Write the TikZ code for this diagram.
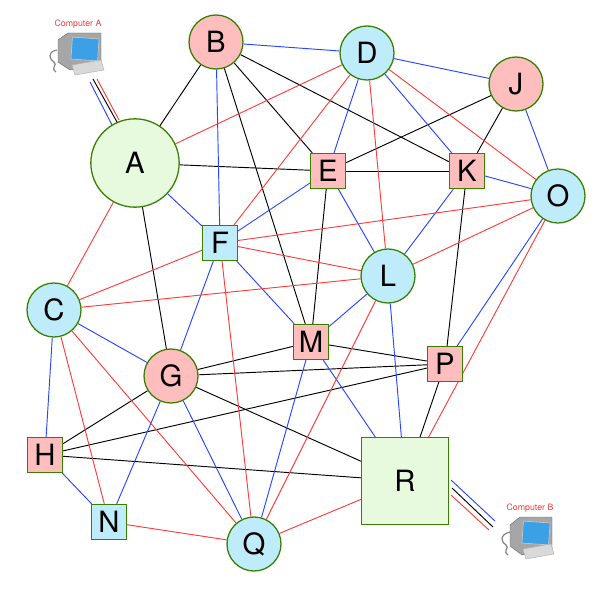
\documentclass[tikz,border=0pt]{standalone}
\usepackage{fontspec}
\setmainfont{TeX Gyre Heros}
\usetikzlibrary{backgrounds}
\definecolor{ngreen}{RGB}{56,128,0}
\definecolor{npink}{RGB}{255,190,190}
\definecolor{nblue}{RGB}{190,236,250}
\definecolor{nlight}{RGB}{232,250,222}
\definecolor{eblue}{RGB}{40,70,255}
\definecolor{ered}{RGB}{255,60,60}
\definecolor{ltext}{RGB}{240,60,60}
\definecolor{scrblue}{RGB}{60,160,230}
\begin{document}
\begin{tikzpicture}[x=0.03cm,y=-0.03cm,
 base/.style={draw=ngreen,line width=1.1pt,inner sep=0pt,font=\fontsize{25}{25}\selectfont},
 cp/.style={base,circle,minimum size=1.62cm,fill=npink},
 cb/.style={base,circle,minimum size=1.62cm,fill=nblue},
 sp/.style={base,rectangle,minimum size=1.05cm,fill=npink},
 sb/.style={base,rectangle,minimum size=1.05cm,fill=nblue},
 bk/.style={draw=black,line width=0.8pt},
 bl/.style={draw=eblue,line width=0.8pt},
 rd/.style={draw=ered,line width=0.8pt},
 clab/.style={text=ltext,font=\fontsize{7.5}{7.5}\selectfont,inner sep=0pt},
 body/.style={fill=gray!70,draw=gray!85!black,line width=0.4pt},
 scr/.style={fill=scrblue,draw=gray!40,line width=0.5pt},
 kbd/.style={fill=gray!30,draw=gray!60,line width=0.4pt}]
\useasboundingbox (0,0) rectangle (600,600);
\node[base,circle,minimum size=2.65cm,fill=nlight] (A) at (135,163) {A};
\node[cp] (B) at (216,42) {B};
\node[cb] (D) at (367,53) {D};
\node[cp] (J) at (516,84) {J};
\node[cb] (O) at (558,196) {O};
\node[sp] (E) at (328,171) {E};
\node[sp] (K) at (467,171) {K};
\node[sb] (F) at (220,243) {F};
\node[cb] (L) at (388,276) {L};
\node[cb] (C) at (54,310) {C};
\node[sp] (M) at (311,342) {M};
\node[cp] (G) at (171,376) {G};
\node[sp] (P) at (445,364) {P};
\node[sp] (H) at (45,455) {H};
\node[base,rectangle,minimum size=2.6cm,fill=nlight] (R) at (405,481) {R};
\node[sb] (N) at (109,522) {N};
\node[cb] (Q) at (254,544) {Q};
\begin{scope}[on background layer]
\foreach \a/\b in {A/B,A/E,A/G,B/E,B/K,B/M,E/J,E/K,J/K,E/M,K/P,M/P,M/G,G/P,G/R,G/H,H/P,H/R,P/R}
  \draw[bk] (\a) -- (\b);
\foreach \a/\b in {B/D,B/F,D/J,D/E,D/K,J/O,K/O,K/L,E/L,E/F,A/F,F/M,F/G,L/M,L/R,M/R,M/Q,O/P,G/N,G/Q,C/G,C/H,H/N}
  \draw[bl] (\a) -- (\b);
\foreach \a/\b in {A/D,A/C,D/F,D/L,D/O,C/F,F/L,F/O,C/L,O/L,O/R,F/Q,L/Q,C/N,C/Q,N/Q,Q/R}
  \draw[rd] (\a) -- (\b);
\end{scope}
% computer A
\node[clab] (la) at (78,24) {Computer A};
\draw[gray,line width=1pt] (57,50) .. controls (46,52) and (50,60) .. (54,62) .. controls (58,65) and (50,68) .. (56,72);
\draw[body] (58,40) -- (68,33) -- (101,33) -- (101,64) -- (70,70) -- (58,62) -- cycle;
\node[scr,minimum width=0.8cm,minimum height=0.66cm,inner sep=0pt,rotate=-4] (sa) at (85,49) {};
\draw[kbd] (72,65) -- (101,60) -- (104,70) -- (75,75) -- cycle;
\coordinate (a1) at (90,82); \coordinate (a2) at (112,125);
\coordinate (a3) at (93,79); \coordinate (a4) at (117,122);
\coordinate (a5) at (97,79); \coordinate (a6) at (119,120);
\draw[bl] (a1) -- (a2); \draw[bk] (a3) -- (a4); \draw[rd] (a5) -- (a6);
% computer B
\node[clab] (lb) at (530,508) {Computer B};
\draw[gray,line width=1pt] (510,532) .. controls (498,535) and (502,543) .. (506,545) .. controls (510,548) and (502,551) .. (508,555);
\draw[body] (510,525) -- (520,517) -- (552,517) -- (552,548) -- (522,555) -- (510,546) -- cycle;
\node[scr,minimum width=0.8cm,minimum height=0.66cm,inner sep=0pt,rotate=-4] (sb) at (536,533) {};
\draw[kbd] (523,549) -- (551,544) -- (554,554) -- (526,559) -- cycle;
\coordinate (b1) at (451,480); \coordinate (b2) at (495,521);
\coordinate (b3) at (452,488); \coordinate (b4) at (493,527);
\coordinate (b5) at (451,495); \coordinate (b6) at (489,530);
\draw[bl] (b1) -- (b2); \draw[bk] (b3) -- (b4); \draw[rd] (b5) -- (b6);
\end{tikzpicture}
\end{document}
